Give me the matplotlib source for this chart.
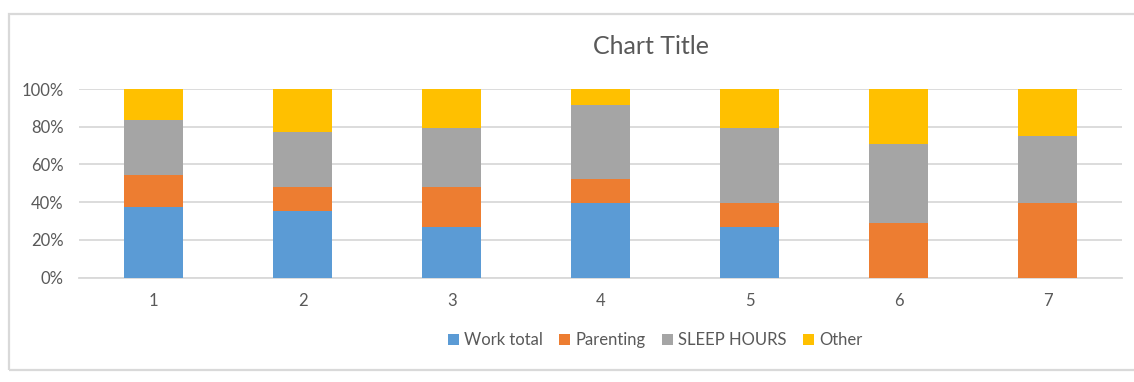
import matplotlib
matplotlib.use("Agg")
import matplotlib.pyplot as plt
from matplotlib.patches import Rectangle
from matplotlib.ticker import PercentFormatter
import numpy as np

plt.rcParams['font.family'] = ['Lato', 'DejaVu Sans']

categories = ["1", "2", "3", "4", "5", "6", "7"]
work_total = [9, 8.5, 6.5, 9.5, 6.5, 0, 0]
parenting = [4, 3, 5, 3, 3, 7, 9.5]
sleep_hours = [7, 7, 7.5, 9.5, 9.5, 10, 8.5]
other = [4, 5.5, 5, 2, 5, 7, 6]

series_names = ["Work total", "Parenting", "SLEEP HOURS", "Other"]
colors = ["#5B9BD5", "#ED7D31", "#A5A5A5", "#FFC000"]
text_color = "#595959"

data = np.array([work_total, parenting, sleep_hours, other], dtype=float)
totals = data.sum(axis=0)
pct = data / totals * 100

W, H = 1134, 382
fig = plt.figure(figsize=(W / 100, H / 100), dpi=100)
fig.patch.set_facecolor("white")

# chart border
fig.patches.append(Rectangle((9 / W, 1 - 370 / H), 1.2, (370 - 14) / H,
                             transform=fig.transFigure, fill=False,
                             edgecolor="#D9D9D9", linewidth=1.6))

left, right = 79 / W, 1122.3 / W
bottom, top = 1 - 277.7 / H, 1 - 89 / H
ax = fig.add_axes([left, bottom, right - left, top - bottom])

x = np.arange(len(categories))
base = np.zeros(len(categories))
handles = []
for name, vals, c in zip(series_names, pct, colors):
    b = ax.bar(x, vals, bottom=base, width=0.396, color=c, label=name, zorder=3)
    handles.append(b)
    base += vals

ax.set_xlim(-0.5, len(categories) - 0.5)
ax.set_ylim(0, 100)
ax.set_yticks(np.arange(0, 101, 20))
ax.yaxis.set_major_formatter(PercentFormatter(decimals=0))
ax.set_xticks(x)
ax.set_xticklabels(categories)
ax.grid(axis="y", color="#D9D9D9", linewidth=1.3, zorder=0)
ax.set_axisbelow(True)
for s in ["top", "right", "left"]:
    ax.spines[s].set_visible(False)
ax.spines["bottom"].set_color("#D9D9D9")
ax.spines["bottom"].set_linewidth(1.3)
ax.tick_params(axis="both", length=0, labelsize=12, colors=text_color)
ax.tick_params(axis="x", pad=11)
ax.tick_params(axis="y", pad=11)

fig.text(651 / W, 1 - 47 / H, "Chart Title", ha="center", va="center",
         fontsize=18, color=text_color)

fig.legend(handles=handles, labels=series_names, loc="center",
           bbox_to_anchor=(655 / W, 1 - 340 / H), ncol=4, frameon=False,
           fontsize=12, labelcolor=text_color, handlelength=0.65,
           handleheight=0.65, handletextpad=0.3, columnspacing=1.0)

fig.savefig("out.png", dpi=100, facecolor="white")
